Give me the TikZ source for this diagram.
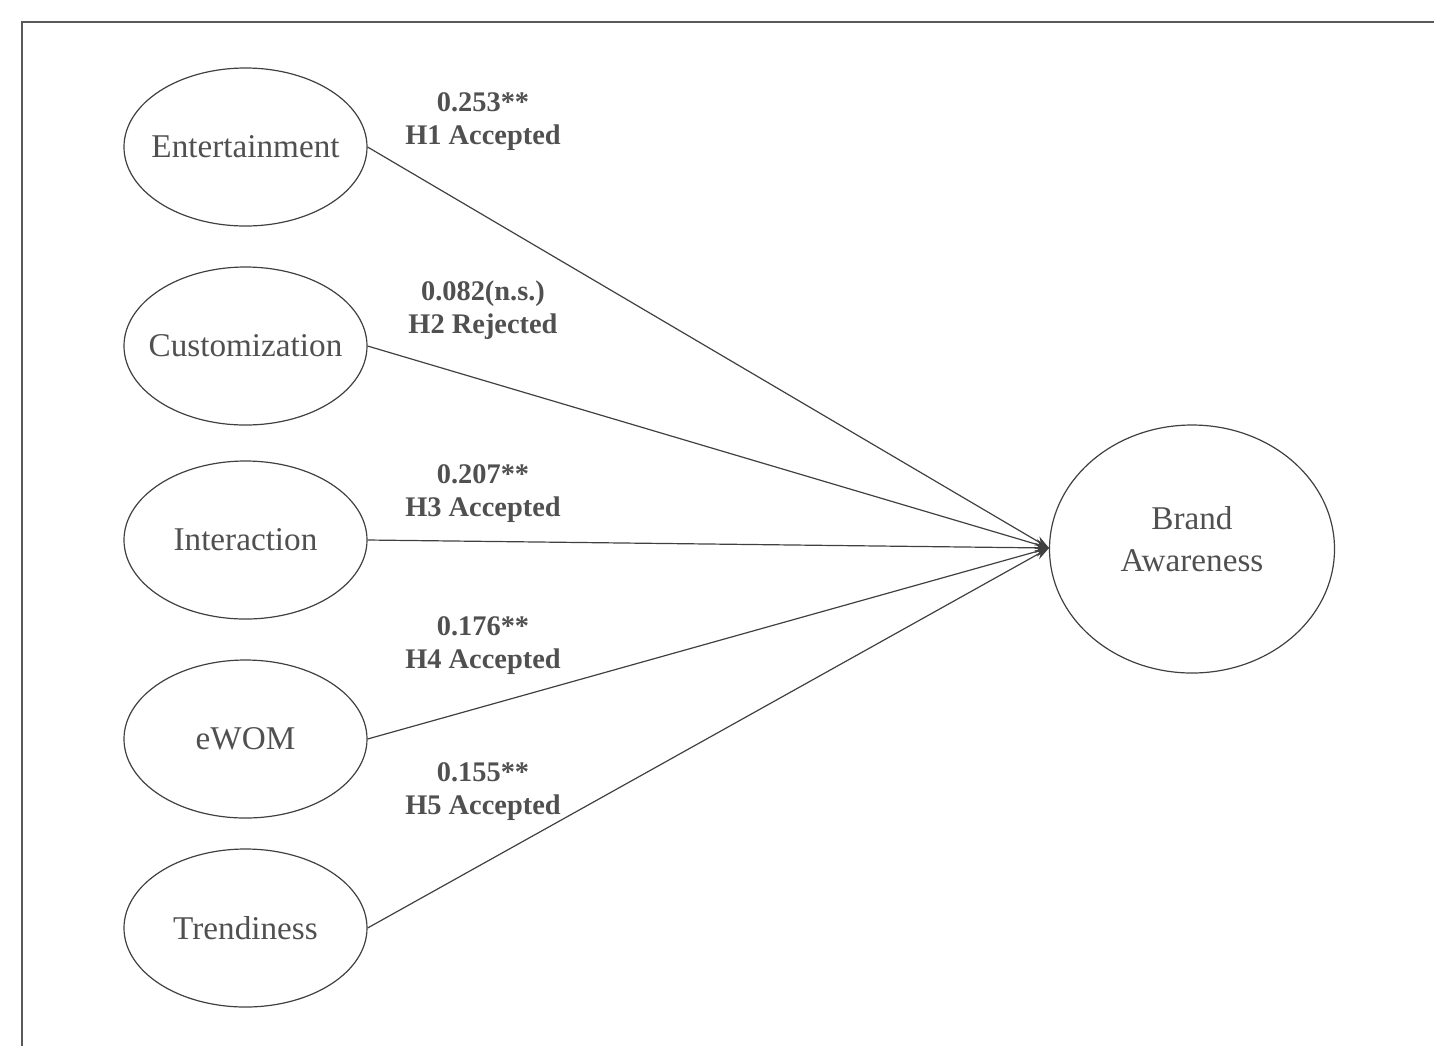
\documentclass[tikz,border=0pt]{standalone}
\usepackage{fontspec}
\setmainfont{Liberation Serif}
\usetikzlibrary{positioning,arrows.meta,shapes.geometric}
\definecolor{ink}{HTML}{505050}
\definecolor{edge}{HTML}{404040}

\begin{document}
\begin{tikzpicture}[x=0.5pt,y=-0.5pt]
  \tikzset{
    factor/.style={ellipse,draw=edge,line width=0.6pt,text=ink,
                   inner xsep=-30pt,inner ysep=0pt,
                   minimum width=121.5pt,minimum height=79pt,
                   font=\fontsize{16.6}{20}\selectfont},
    link/.style={draw=edge,line width=0.6pt,-{Stealth[length=7pt,width=5pt]}},
    coef/.style={align=center,text=ink,font=\fontsize{14.2}{16.5}\selectfont\bfseries},
  }
  \useasboundingbox (0,0) rectangle (1434,1046);
  % ---- frame ----
  \draw[black!65,line width=1pt] (22,1046) -- (22,22) -- (1434,22);
  % ---- factors ----
  \node[factor] (ent)  at (245.5,147) {Entertainment};
  \node[factor] (cus)  at (245.5,346) {Customization};
  \node[factor] (int)  at (245.5,540) {Interaction};
  \node[factor] (ewom) at (245.5,739) {eWOM};
  \node[factor] (trd)  at (245.5,928) {Trendiness};
  \node[factor,align=center,minimum width=142.5pt,minimum height=124pt,
        font=\fontsize{16.6}{21}\selectfont,text depth=10pt] (brand) at (1192,549) {Brand\\Awareness};
  \coordinate (tip) at (1049,548);
  % ---- paths ----
  \foreach \n in {ent,cus,int,ewom,trd}
    \draw[link] (\n.east) -- (tip);
  % ---- coefficients ----
  \node[coef] (h1) at (483,122) {0.253**\\H1 Accepted};
  \node[coef] (h2) at (483,310) {0.082(n.s.)\\H2 Rejected};
  \node[coef] (h3) at (483,494) {0.207**\\H3 Accepted};
  \node[coef] (h4) at (483,646) {0.176**\\H4 Accepted};
  \node[coef] (h5) at (483,792) {0.155**\\H5 Accepted};
\end{tikzpicture}
\end{document}
